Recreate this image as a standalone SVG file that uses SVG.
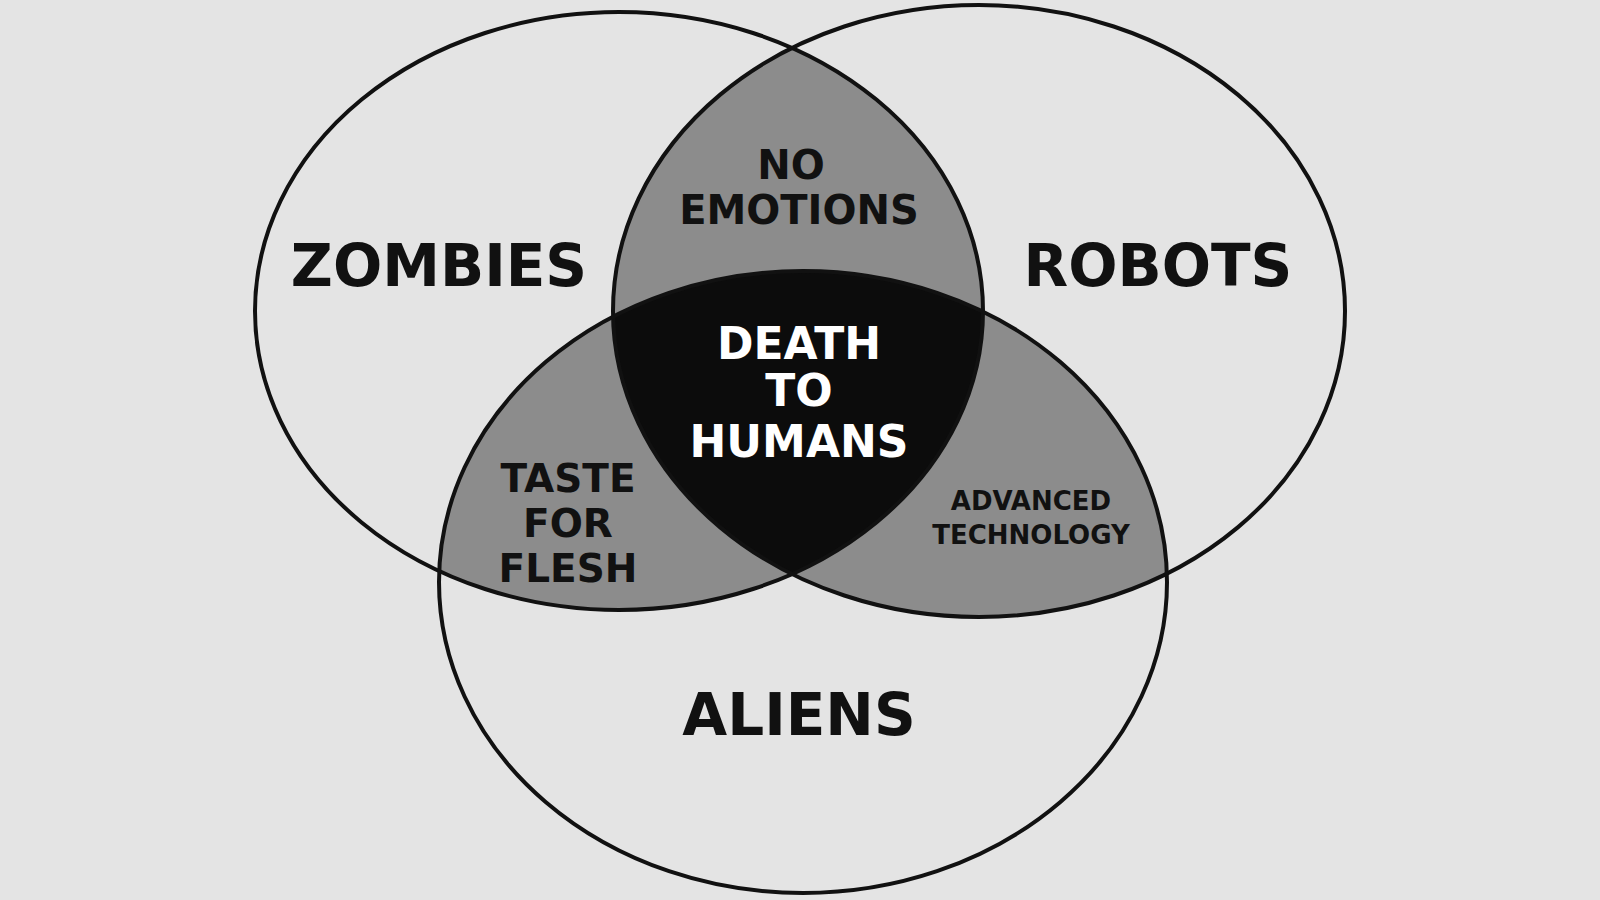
<svg xmlns="http://www.w3.org/2000/svg" width="1600" height="900" viewBox="0 0 1600 900">
<style>
.c{fill:none;stroke:#111;stroke-width:4}
.t{font-family:"DejaVu Sans",sans-serif;font-weight:bold;text-anchor:middle;fill:#111}
.w{fill:#fff}
</style>
<defs>
<clipPath id="cz"><ellipse cx="619" cy="311" rx="364" ry="299"/></clipPath>
<clipPath id="cr"><ellipse cx="979" cy="311" rx="366" ry="306"/></clipPath>
</defs>
<rect width="1600" height="900" fill="#e4e4e4"/>
<g id="fills">
<g clip-path="url(#cz)"><ellipse cx="979" cy="311" rx="366" ry="306" fill="#8c8c8c"/><ellipse cx="803" cy="582" rx="364" ry="311" fill="#8c8c8c"/></g>
<g clip-path="url(#cr)"><ellipse cx="803" cy="582" rx="364" ry="311" fill="#8c8c8c"/></g>
<g clip-path="url(#cz)"><g clip-path="url(#cr)"><ellipse cx="803" cy="582" rx="364" ry="311" fill="#0c0c0c"/></g></g>
</g>
<g id="zombies"><ellipse class="c" cx="619" cy="311" rx="364" ry="299"/><text class="t" x="439" y="286" font-size="58">ZOMBIES</text></g>
<g id="robots"><ellipse class="c" cx="979" cy="311" rx="366" ry="306"/><text class="t" x="1158" y="286" font-size="58">ROBOTS</text></g>
<g id="aliens"><ellipse class="c" cx="803" cy="582" rx="364" ry="311"/><text class="t" x="799" y="735" font-size="58">ALIENS</text></g>
<g id="no-emotions"><text class="t" x="791" y="179" font-size="40">NO</text><text class="t" x="799" y="224" font-size="40">EMOTIONS</text></g>
<g id="death"><text class="t w" x="799" y="359" font-size="44">DEATH</text><text class="t w" x="799" y="406" font-size="44">TO</text><text class="t w" x="799" y="457" font-size="44">HUMANS</text></g>
<g id="taste"><text class="t" x="568" y="492" font-size="39">TASTE</text><text class="t" x="568" y="537" font-size="39">FOR</text><text class="t" x="568" y="582" font-size="39">FLESH</text></g>
<g id="tech"><text class="t" x="1031" y="510" font-size="26">ADVANCED</text><text class="t" x="1031" y="544" font-size="26">TECHNOLOGY</text></g>
<g id="connectors"/>
</svg>
